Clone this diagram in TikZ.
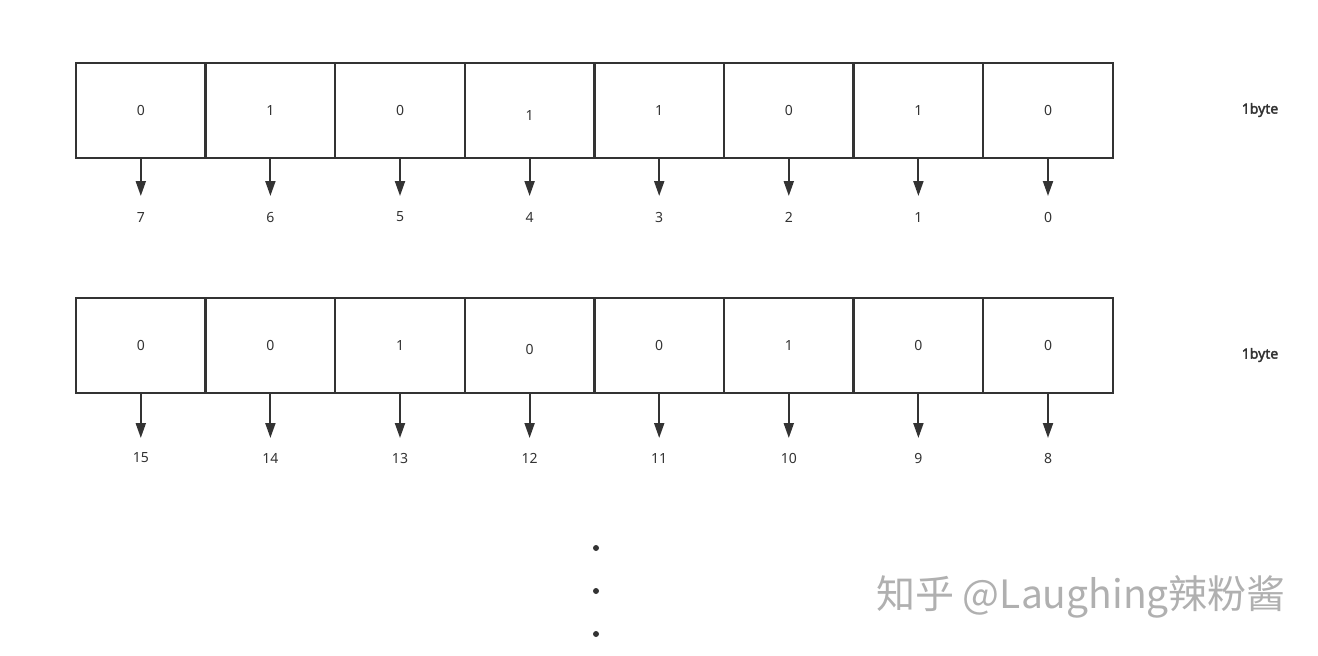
\documentclass[tikz,border=0pt]{standalone}
\usepackage{fontspec}
\setmainfont{Noto Sans}
\newfontfamily\cjk{Noto Sans CJK SC}
\newfontfamily\boldf[FakeBold=2.5]{Noto Sans}
\usetikzlibrary{arrows.meta,calc}
\definecolor{ink}{HTML}{333333}
\definecolor{wm}{HTML}{B0B0B0}
\begin{document}
\begin{tikzpicture}[x=1pt,y=-1pt,
  cell/.style={draw=ink,line width=2.4pt,minimum width=129.6pt,minimum height=95pt,inner sep=0pt,outer sep=0pt},
  val/.style={text=ink,font=\fontsize{14}{16}\selectfont},
  idx/.style={text=ink,font=\fontsize{14}{16}\selectfont},
  ptr/.style={draw=ink,line width=2pt,-{Triangle[length=15pt,width=10pt]}},
  bytelbl/.style={text=ink,font=\fontsize{14}{16}\selectfont\boldf},
  dotm/.style={circle,fill=ink,inner sep=0pt,minimum size=6pt}]
\useasboundingbox (0,0) rectangle (1318,656);
% row 1
\foreach \i/\n in {0/7,1/6,2/5,3/4,4/3,5/2,6/1,7/0}{
  \node[cell] (a\i) at ({76+129.6*(\i+0.5)},110.5) {};
  \coordinate (ta\i) at ({76+129.6*(\i+0.5)},196);
  \node[idx] (la\i) at ({76+129.6*(\i+0.5)},217) {\n};
  \draw[ptr] (a\i.south) -- (ta\i);
}
\foreach \i/\v in {0/0,1/1,2/0,4/1,5/0,6/1,7/0}{
  \node[val] at (a\i) {\v};
}
\node[val] at ($(a3)+(0,5)$) {1};
% row 2
\foreach \i/\n in {0/15,1/14,2/13,3/12,4/11,5/10,6/9,7/8}{
  \node[cell] (b\i) at ({76+129.6*(\i+0.5)},345.5) {};
  \coordinate (tb\i) at ({76+129.6*(\i+0.5)},438);
  \node[idx] (lb\i) at ({76+129.6*(\i+0.5)},458) {\n};
  \draw[ptr] (b\i.south) -- (tb\i);
}
\foreach \i/\v in {0/0,1/0,2/1,4/0,5/1,6/0,7/0}{
  \node[val] at (b\i) {\v};
}
\node[val] at ($(b3)+(0,4)$) {0};
\node[bytelbl] (byte1) at (1260,110) {1byte};
\node[bytelbl] (byte2) at (1260,355) {1byte};
\node[dotm] (d1) at (596,548) {};
\node[dotm] (d2) at (596,591) {};
\node[dotm] (d3) at (596,634) {};
\node[text=wm,font=\fontsize{39}{42}\selectfont\cjk,anchor=center] (wmk) at (1081,597) {知乎 @Laughing辣粉酱};
\end{tikzpicture}
\end{document}
